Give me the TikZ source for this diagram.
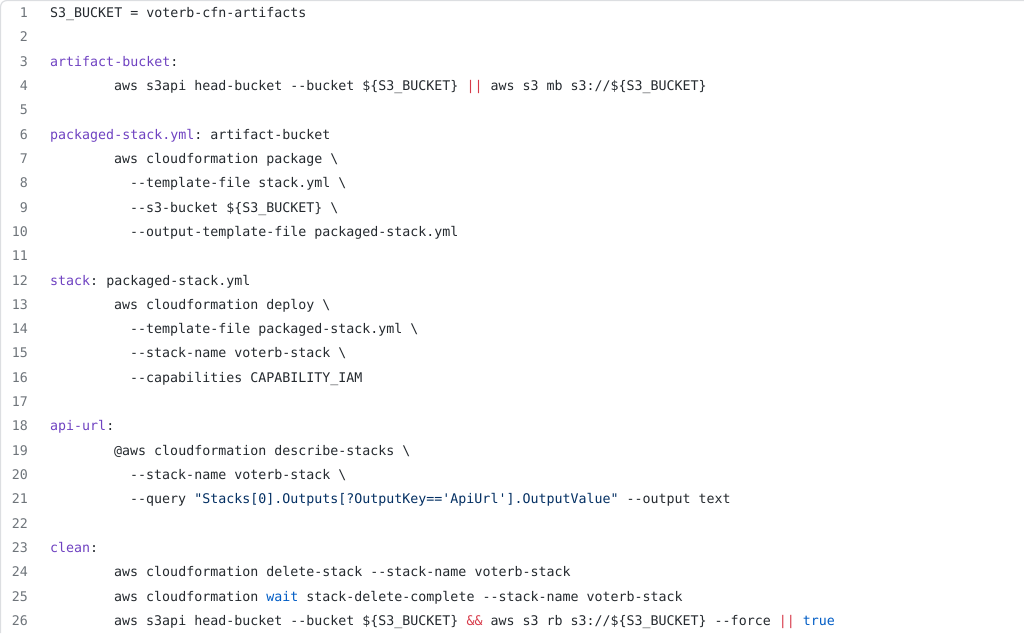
\documentclass[tikz,border=0pt]{standalone}
\usepackage{fontspec}
\setmonofont{DejaVu Sans Mono}
\usepackage{tikz}
\definecolor{codetext}{RGB}{36,41,46}
\definecolor{numgray}{RGB}{110,116,122}
\definecolor{tgtpurple}{RGB}{111,66,193}
\definecolor{oprred}{RGB}{215,58,73}
\definecolor{kwblue}{RGB}{0,92,197}
\definecolor{strnavy}{RGB}{3,47,98}
\definecolor{framegray}{RGB}{220,222,225}
\newcommand\tgt[1]{\textcolor{tgtpurple}{#1}}
\newcommand\opr[1]{\textcolor{oprred}{#1}}
\newcommand\kw[1]{\textcolor{kwblue}{#1}}
\newcommand\str[1]{\textcolor{strnavy}{#1}}
\newcommand\bkt{\$\{S3\_BUCKET\}}
\newcommand\bsl{\textbackslash}

\begin{document}
\begin{tikzpicture}[x=1pt,y=1pt,yscale=-1,xscale=1,
  codeline/.style={anchor=base west, inner sep=0, text=codetext,
    font=\ttfamily\fontsize{13.3}{16}\selectfont},
  numline/.style={anchor=base east, inner sep=0, text=numgray,
    font=\ttfamily\fontsize{13.3}{16}\selectfont}]
\useasboundingbox (0,0) rectangle (1024,633);

% frame
\draw [framegray, line width=1.2, rounded corners=6] (1024,0.6) -- (0.6,0.6) -- (0.6,633);

% line numbers
\foreach \i in {1,...,26}
  \node [numline] (n\i) at (28, {17.5+(\i-1)*24.32}) {\i};

% code lines
\node [codeline] (l1) at (50, 17.5) {S3\_BUCKET = voterb-cfn-artifacts};
\node [codeline] (l3) at (50, 66.14) {\tgt{artifact-bucket}:};
\node [codeline] (l4) at (114, 90.46) {aws s3api head-bucket --bucket \bkt{} \opr{||} aws s3 mb s3://\bkt};
\node [codeline] (l6) at (50, 139.1) {\tgt{packaged-stack.yml}: artifact-bucket};
\node [codeline] (l7) at (114, 163.42) {aws cloudformation package \bsl};
\node [codeline] (l8) at (130, 187.74) {--template-file stack.yml \bsl};
\node [codeline] (l9) at (130, 212.06) {--s3-bucket \bkt{} \bsl};
\node [codeline] (l10) at (130, 236.38) {--output-template-file packaged-stack.yml};
\node [codeline] (l12) at (50, 285.02) {\tgt{stack}: packaged-stack.yml};
\node [codeline] (l13) at (114, 309.34) {aws cloudformation deploy \bsl};
\node [codeline] (l14) at (130, 333.66) {--template-file packaged-stack.yml \bsl};
\node [codeline] (l15) at (130, 357.98) {--stack-name voterb-stack \bsl};
\node [codeline] (l16) at (130, 382.3) {--capabilities CAPABILITY\_IAM};
\node [codeline] (l18) at (50, 430.94) {\tgt{api-url}:};
\node [codeline] (l19) at (114, 455.26) {@aws cloudformation describe-stacks \bsl};
\node [codeline] (l20) at (130, 479.58) {--stack-name voterb-stack \bsl};
\node [codeline] (l21) at (130, 503.9) {--query \str{"Stacks[0].Outputs[?OutputKey=='ApiUrl'].OutputValue"} --output text};
\node [codeline] (l23) at (50, 552.54) {\tgt{clean}:};
\node [codeline] (l24) at (114, 576.86) {aws cloudformation delete-stack --stack-name voterb-stack};
\node [codeline] (l25) at (114, 601.18) {aws cloudformation \kw{wait} stack-delete-complete --stack-name voterb-stack};
\node [codeline] (l26) at (114, 625.5) {aws s3api head-bucket --bucket \bkt{} \opr{\&\&} aws s3 rb s3://\bkt{} --force \opr{||} \kw{true}};

\end{tikzpicture}
\end{document}
